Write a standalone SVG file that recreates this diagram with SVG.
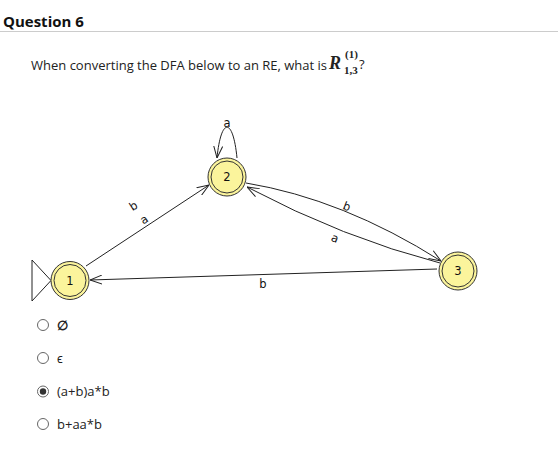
<svg xmlns="http://www.w3.org/2000/svg" width="558" height="449" viewBox="0 0 558 449">
<defs>
<style>
.txt{font-family:"Open Sans","Liberation Sans",sans-serif;font-size:13px;fill:#222}
.h{font-family:"Open Sans","Liberation Sans",sans-serif;font-size:15px;font-weight:bold;fill:#111}
.m{font-family:"Liberation Serif",serif;font-weight:bold;fill:#222}
.outer{fill:#fbf49c;stroke:#333;stroke-width:1}
.inner{fill:none;stroke:#333;stroke-width:1}
.nl{font-family:"DejaVu Sans",sans-serif;font-size:11.5px;fill:#111;text-anchor:middle;dominant-baseline:central}
.el{font-family:"DejaVu Sans",sans-serif;font-size:11.5px;fill:#111;text-anchor:middle;dominant-baseline:central}
.edge{fill:none;stroke:#222;stroke-width:1;marker-end:url(#arr)}
.radio{fill:#fff;stroke:#666;stroke-width:1}
</style>
<marker id="arr" viewBox="0 0 12 10" refX="12" refY="5" markerWidth="12" markerHeight="10" orient="auto" markerUnits="userSpaceOnUse">
<path d="M0,0.5 L12,5 L0,9.5" fill="none" stroke="#222" stroke-width="1"/>
</marker>
</defs>
<rect width="558" height="449" fill="#fff"/>
<text class="h" x="3" y="27">Question 6</text>
<line x1="0" y1="31.5" x2="558" y2="31.5" stroke="#ccc" stroke-width="1"/>
<text class="txt" x="31" y="70">When converting the DFA below to an RE, what is</text>
<text class="m" x="329" y="69" font-size="18" font-style="italic">R</text>
<text class="m" x="345" y="58" font-size="11">(1)</text>
<text class="m" x="344" y="74" font-size="11">1,3</text>
<text class="txt" x="359" y="69">?</text>

<g id="connectors">
<polygon points="32,260 51,280.5 32,301" fill="none" stroke="#222" stroke-width="1"/>
<path class="edge" d="M86,266 L209,185"/>
<path class="edge" d="M246,183 Q343,199 441,261"/>
<path class="edge" d="M440,263 Q343.5,238 247,187"/>
<path class="edge" d="M437,269 L90,280"/>
<path class="edge" d="M237,158 C233,117 221,117 217,158"/>
<text class="el" transform="translate(133.5,206) rotate(-33)">b</text>
<text class="el" transform="translate(144,219.5) rotate(-33)">a</text>
<text class="el" transform="translate(347,206.5) rotate(22)">b</text>
<text class="el" transform="translate(335,238) rotate(22)">a</text>
<text class="el" x="263" y="283.5">b</text>
<text class="el" x="227" y="122.5">a</text>
</g>

<g id="node1">
<circle class="outer" cx="70" cy="280.5" r="19"/>
<circle class="inner" cx="70" cy="280.5" r="16"/>
<text class="nl" x="70" y="280.5">1</text>
</g>
<g id="node2">
<circle class="outer" cx="227" cy="177" r="19"/>
<circle class="inner" cx="227" cy="177" r="16"/>
<text class="nl" x="227" y="177">2</text>
</g>
<g id="node3">
<circle class="outer" cx="458" cy="271" r="19"/>
<circle class="inner" cx="458" cy="271" r="16"/>
<text class="nl" x="458" y="271">3</text>
</g>

<g id="options">
<circle class="radio" cx="43" cy="325" r="5.5"/>
<text class="txt" x="57" y="330" font-weight="bold">∅</text>
<circle class="radio" cx="43" cy="358" r="5.5"/>
<text class="txt" x="57" y="363">ϵ</text>
<circle class="radio" cx="43" cy="391.5" r="5.5"/>
<circle cx="43" cy="391.5" r="3.2" fill="#333"/>
<text class="txt" x="57" y="396">(a+b)a*b</text>
<circle class="radio" cx="43" cy="424" r="5.5"/>
<text class="txt" x="57" y="429">b+aa*b</text>
</g>
</svg>
